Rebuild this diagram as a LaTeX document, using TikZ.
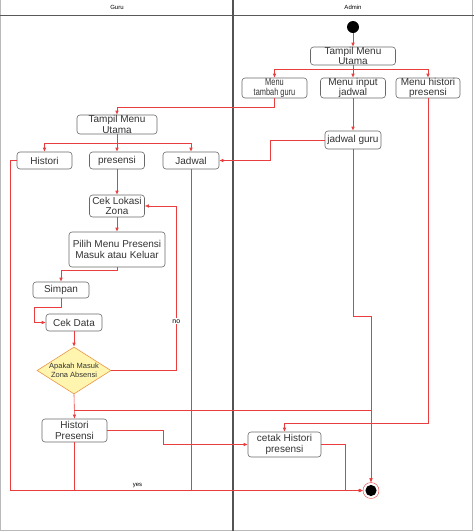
\documentclass[tikz,border=0pt]{standalone}
\usepackage{fontspec}
\setmainfont{Liberation Sans}
\usetikzlibrary{shapes.geometric,arrows.meta}
\definecolor{flowred}{RGB}{234,62,62}
\definecolor{boxgray}{RGB}{105,105,105}
\definecolor{decfill}{RGB}{255,245,175}
\definecolor{decdraw}{RGB}{232,150,70}
\newcommand{\narrow}[1]{\scalebox{0.74}[1]{#1}}
\begin{document}
\begin{tikzpicture}[
    x=1pt, y=-1pt,
    font=\fontsize{10}{10.5}\selectfont,
    activity/.style={draw=boxgray, rounded corners=3pt, line width=0.6pt, fill=white, align=center, inner sep=0pt, text=black!80},
    decision/.style={diamond, draw=decdraw, fill=decfill, line width=0.6pt, aspect=1.57, inner sep=0pt, align=center, font=\fontsize{7.5}{8.5}\selectfont, text=black!80},
    flow/.style={draw=flowred, line width=0.6pt, -{Latex[length=4pt,width=3.5pt]}},
    lane/.style={draw=gray!55, line width=0.6pt},
    lanehead/.style={font=\fontsize{6}{6}\selectfont}
  ]
  \useasboundingbox (0,0) rectangle (474,531);
  \draw[lane] (0.5,0) -- (0.5,530) -- (472.5,530) -- (472.5,0);
  \draw[gray!70!black, line width=0.8pt] (0,15) -- (474,15);
  \draw[gray!65!black, line width=1.8pt] (233,0) -- (233,531);
  \node[lanehead] (guru) at (117,7) {Guru};
  \node[lanehead] (admin) at (353,7) {Admin};

  \node[circle, fill=black, minimum size=12pt, inner sep=0pt] (start) at (353,27) {};
  \node[activity, minimum width=85, minimum height=18] (tmA) at (353,56) {Tampil Menu\\Utama};
  \node[activity, minimum width=65, minimum height=20] (mtg) at (274.5,88) {\narrow{Menu}\\\narrow{tambah guru}};
  \node[activity, minimum width=65, minimum height=20] (mij) at (353,88) {Menu input\\jadwal};
  \node[activity, minimum width=64, minimum height=20] (mhp) at (428,88) {Menu histori\\presensi};
  \node[activity, minimum width=56, minimum height=18] (jg) at (353,140) {jadwal guru};
  \node[activity, minimum width=73, minimum height=25] (cetak) at (284.5,444.5) {cetak Histori\\presensi};
  \node[circle, draw=flowred, fill=white, minimum size=16pt, inner sep=0pt,
        path picture={\fill[black] (path picture bounding box.center) circle (5.6pt);}] (end) at (371,490.5) {};

  \node[activity, minimum width=80, minimum height=19] (tmG) at (117,124.5) {Tampil Menu\\Utama};
  \node[activity, minimum width=55, minimum height=17] (histori) at (44.5,160.5) {Histori};
  \node[activity, minimum width=55, minimum height=17] (presensi) at (117,160.5) {presensi};
  \node[activity, minimum width=56, minimum height=17] (jadwal) at (191,160.5) {Jadwal};
  \node[activity, minimum width=55, minimum height=22] (clz) at (117,206) {Cek Lokasi\\Zona};
  \node[activity, minimum width=96, minimum height=35] (pilih) at (117,249.5) {Pilih Menu Presensi\\Masuk atau Keluar};
  \node[activity, minimum width=56, minimum height=16] (simpan) at (61,290) {Simpan};
  \node[activity, minimum width=56, minimum height=17] (cekdata) at (74,322.5) {Cek Data};
  \node[decision, minimum width=74, minimum height=47] (dec) at (74,370.5) {Apakah Masuk\\Zona Absensi};
  \node[activity, minimum width=65, minimum height=23] (histP) at (74.5,430.5) {Histori\\Presensi};

  \draw[flow] (start) -- (tmA);
  \draw[flow] (tmA.south) -- ++(0,4) -| (mtg.north);
  \draw[flow] (tmA.south) -- (mij.north);
  \draw[flow] (tmA.south) -- ++(0,4) -| (mhp.north);
  \draw[flow] (mtg.south) -- ++(0,9) -| (tmG.north);
  \draw[flow] (mij.south) -- (jg.north);
  \draw[flow] (jg.west) -- ++(-54,0) |- (jadwal.east);
  \draw[flow] (jg.south) -- ++(0,167) -| (end.north);
  \draw[flow] (mhp.south) -- ++(0,325) -| (cetak.north);
  \draw[flow] (cetak.east) -- ++(24,0) |- (end.west);

  \draw[flow] (tmG.south) -- ++(0,9) -| (histori.north);
  \draw[flow] (tmG.south) -- (presensi.north);
  \draw[flow] (tmG.south) -- ++(0,9) -| (jadwal.north);
  \draw[flow] (presensi.south) -- (clz.north);
  \draw[flow] (clz.south) -- (pilih.north);
  \draw[flow] (pilih.south) -- ++(0,3) -| (simpan.north);
  \draw[flow] (simpan.south) -- ++(0,9) -- ++(-27,0) |- (cekdata.west);
  \draw[flow] (cekdata.south) -- (dec.north);
  \draw[flow] (dec.east) -- ++(65,0) |- (clz.east)
    node[pos=0.15, fill=white, inner sep=1pt, font=\fontsize{7}{7}\selectfont] {no};
  \draw[flow] (dec.south) -- (histP.north);
  \draw[flow] (dec.south) ++(0,16) -| (end.north);
  \draw[flow] (histP.east) -- ++(56,0) |- (cetak.west);
  \draw[flow] (histP.south) |- (end.west);
  \draw[flow] (jadwal.south) |- (end.west);
  \draw[flow] (histori.west) -- ++(-6,0) |- (end.west)
    node[pos=0.68, above=-1pt, font=\fontsize{6}{6}\selectfont] {yes};
\end{tikzpicture}
\end{document}
